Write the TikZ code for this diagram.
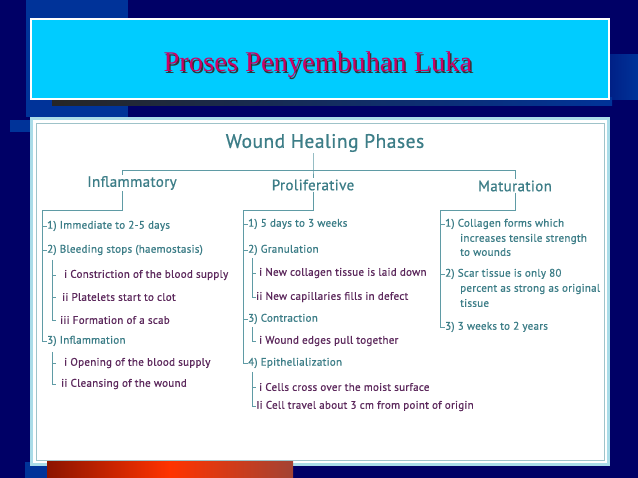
\documentclass[tikz,border=0pt]{standalone}
\usepackage{fontspec}
\setmainfont{PT Sans}
\newfontfamily\titlefont{Liberation Serif}
\newfontfamily\bodyfont[LetterSpace=2.5,FakeBold=0.7]{PT Sans}
\usetikzlibrary{shadings}
\definecolor{navy}{RGB}{0,0,102}
\definecolor{midblue}{RGB}{0,51,153}
\definecolor{cyanbox}{RGB}{0,204,255}
\definecolor{titlered}{RGB}{204,0,102}
\definecolor{tealtxt}{RGB}{60,125,135}
\definecolor{purptxt}{RGB}{92,40,92}
\definecolor{treeline}{RGB}{95,155,165}
\definecolor{frameblue}{RGB}{170,220,232}
\definecolor{darkred}{RGB}{140,20,0}
\definecolor{orangered}{RGB}{255,51,0}
\tikzset{
  head/.style={font=\bodyfont\fontsize{15}{17}\selectfont, text=tealtxt, inner sep=1pt},
  itm/.style={font=\bodyfont\fontsize{11}{13}\selectfont, text=tealtxt, inner sep=0pt, anchor=west},
  sub/.style={itm, text=purptxt},
  tree/.style={draw=treeline, line width=0.9pt}
}
\begin{document}
\begin{tikzpicture}[x=1pt,y=-1pt]
\useasboundingbox (0,0) rectangle (638,478);
% background
\fill[navy] (0,0) rectangle (638,478);
\fill[midblue] (26,0) rectangle (128,117);
\fill[midblue] (10,120) rectangle (30,132);
\fill[midblue] (25,462) rectangle (47,478);
\shade[left color=navy, right color=midblue] (560,55) rectangle (638,100);
\shade[left color=black!85, right color=midblue] (52,98) rectangle (612,106);
% title box
\fill[white] (30,18) rectangle (610,100);
\fill[cyanbox] (32,20) rectangle (608,98);
\node[font=\titlefont\fontsize{28.5}{32}\selectfont, text=black!80] at (319.3,66.3) {Proses Penyembuhan Luka};
\node[font=\titlefont\fontsize{28.5}{32}\selectfont, text=titlered] (title) at (318,65) {Proses Penyembuhan Luka};
% panel
\fill[frameblue] (30,117) rectangle (610,466);
\fill[white] (33,120) rectangle (607,463);
\draw[treeline!60, line width=0.6pt] (36,123) rectangle (604,460);
% bottom bar
\shade[left color=darkred, right color=orangered] (47,462) rectangle (170,478);
\shade[left color=orangered, right color=darkred!80] (170,462) rectangle (293,478);
% headings
\node[head, font=\bodyfont\fontsize{19.5}{22}\selectfont] (whp) at (325,143) {Wound Healing Phases};
\node[head] (inf) at (132,183) {Inflammatory};
\node[head] (pro) at (313,185) {Proliferative};
\node[head] (mat) at (515,186) {Maturation};
\coordinate (hL) at (122,170);
\coordinate (hM) at (313,170);
\coordinate (hR) at (515,170);
\draw[tree] (whp.south -| hM) -- (hM) -- (hM |- pro.north);
\draw[tree] (hL |- inf.north) -- (hL) -- (hR) -- (hR |- mat.north);
% Inflammatory
\coordinate (iS) at (42,210);
\coordinate (iA) at (52,260);
\coordinate (iB) at (52,352);
\node[itm] (i1) at (47,226) {1) Immediate to 2-5 days};
\node[itm] (i2) at (47,250) {2) Bleeding stops (haemostasis)};
\node[sub] (i2a) at (64,275) {i Constriction of the blood supply};
\node[sub] (i2b) at (62,297) {ii Platelets start to clot};
\node[sub] (i2c) at (60,320) {iii Formation of a scab};
\node[itm] (i3) at (47,341) {3) Inflammation};
\node[sub] (i3a) at (64,363) {i Opening of the blood supply};
\node[sub] (i3b) at (61,384) {ii Cleansing of the wound};
\draw[tree] (inf.south -| hL) -- (hL |- iS) -- (iS) -- (iS |- i3.west) -- (i3.west);
\draw[tree] (iS |- i1.west) -- (i1.west);
\draw[tree] (iS |- i2.west) -- (i2.west);
\draw[tree] (iA) -- (iA |- i2c.west) -- ++(4,0);
\draw[tree] (iA |- i2a.west) -- ++(4,0);
\draw[tree] (iA |- i2b.west) -- ++(4,0);
\draw[tree] (iB) -- (iB |- i3b.west) -- ++(4,0);
\draw[tree] (iB |- i3a.west) -- ++(4,0);
% Proliferative
\coordinate (pS) at (243,210);
\coordinate (pA) at (252,258);
\coordinate (pB) at (252,327);
\coordinate (pC) at (252,372);
\node[itm] (p1) at (248,224) {1) 5 days to 3 weeks};
\node[itm] (p2) at (248,250) {2) Granulation};
\node[sub] (p2a) at (259,273) {i New collagen tissue is laid down};
\node[sub] (p2b) at (256,297) {ii New capillaries fills in defect};
\node[itm] (p3) at (248,319) {3) Contraction};
\node[sub] (p3a) at (259,341) {i Wound edges pull together};
\node[itm] (p4) at (248,363) {4) Epithelialization};
\node[sub] (p4a) at (259,387) {i Cells cross over the moist surface};
\node[sub] (p4b) at (256,406) {Ii Cell travel about 3 cm from point of origin};
\draw[tree] (pro.south -| hM) -- (hM |- pS) -- (pS) -- (pS |- p4.west) -- (p4.west);
\draw[tree] (pS |- p1.west) -- (p1.west);
\draw[tree] (pS |- p2.west) -- (p2.west);
\draw[tree] (pS |- p3.west) -- (p3.west);
\draw[tree] (pA) -- (pA |- p2b.west) -- (p2b.west);
\draw[tree] (pA |- p2a.west) -- ++(4,0);
\draw[tree] (pB) -- (pB |- p3a.west) -- ++(4,0);
\draw[tree] (pC) -- (pC |- p4b.west) -- (p4b.west);
\draw[tree] (pC |- p4a.west) -- ++(4,0);
% Maturation
\coordinate (mS) at (440,210);
\node[itm] (m1) at (445,224) {1) Collagen forms which};
\node[itm] (m1b) at (460,239) {increases tensile strength};
\node[itm] (m1c) at (460,252) {to wounds};
\node[itm] (m2) at (445,274) {2) Scar tissue is only 80};
\node[itm] (m2b) at (460,289) {percent as strong as original};
\node[itm] (m2c) at (460,303) {tissue};
\node[itm] (m3) at (445,327) {3) 3 weeks to 2 years};
\draw[tree] (mat.south -| hR) -- (hR |- mS) -- (mS) -- (mS |- m3.west) -- (m3.west);
\draw[tree] (mS |- m1.west) -- (m1.west);
\draw[tree] (mS |- m2.west) -- (m2.west);
\end{tikzpicture}
\end{document}
